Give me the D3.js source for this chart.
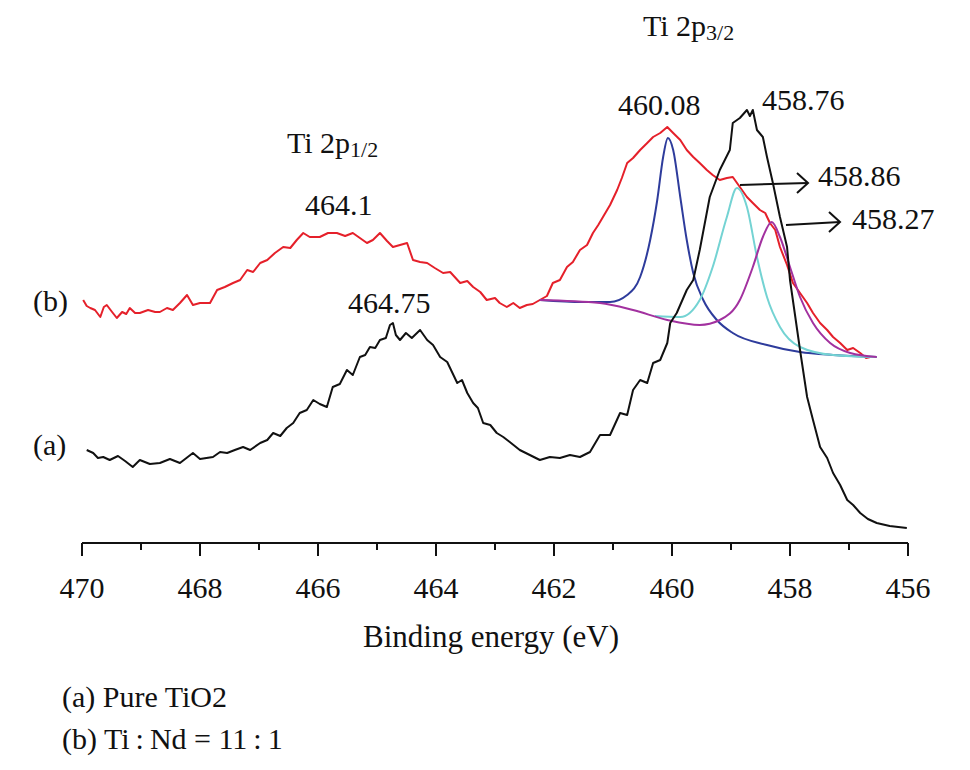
<!DOCTYPE html>
<html>
<head>
<meta charset="utf-8">
<script src="https://cdn.jsdelivr.net/npm/d3@7"></script>
<style>
  body { margin: 0; background: #fff; }
  svg { display: block; }
  text { font-family: "Liberation Serif", "DejaVu Serif", serif; fill: #111; }
</style>
</head>
<body>
<script>
// binding energy (eV), intensity (a.u.)
const pureTiO2 = [
  [469.92,93],[469.81,90],[469.73,85],[469.64,86],[469.53,83],[469.39,87],[469.27,82],[469.14,76],
  [469.02,83],[468.85,79],[468.68,80],[468.51,84],[468.34,80],[468.12,90],[468.00,84],[467.78,86],
  [467.66,91],[467.54,90],[467.41,93],[467.27,96],[467.15,93],[466.98,100],[466.86,103],[466.76,110],
  [466.64,107],[466.53,115],[466.42,120],[466.31,130],[466.19,133],[466.08,143],[465.97,139],[465.85,136],
  [465.75,156],[465.63,159],[465.51,173],[465.41,168],[465.29,186],[465.20,188],[465.12,196],[465.03,195],
  [464.95,203],[464.85,205],[464.78,218],[464.73,220],[464.68,208],[464.61,203],[464.51,210],[464.41,205],
  [464.27,213],[464.15,203],[464.05,198],[463.93,186],[463.81,181],[463.64,160],[463.56,163],[463.47,150],
  [463.37,140],[463.29,135],[463.20,120],[463.08,118],[462.97,110],[462.86,106],[462.75,101],[462.58,93],
  [462.41,88],[462.24,83],[462.07,86],[461.90,85],[461.73,88],[461.56,86],[461.39,91],[461.22,108],
  [461.05,108],[460.88,130],[460.76,128],[460.66,153],[460.54,163],[460.42,160],[460.32,180],[460.20,183],
  [460.08,200],[460.03,220],[459.92,230],[459.75,253],[459.64,263],[459.53,293],[459.36,346],[459.19,373],
  [459.02,393],[458.97,420],[458.85,425],[458.73,433],[458.68,427],[458.63,433],[458.56,413],[458.46,406],
  [458.39,386],[458.29,360],[458.17,326],[458.05,296],[458.00,263],[457.83,193],[457.71,146],[457.61,123],
  [457.49,96],[457.37,85],[457.27,70],[457.15,58],[457.03,43],[456.93,38],[456.81,30],[456.68,24],
  [456.53,20],[456.31,17],[456.02,15]
];

const tiNd = [
  [469.98,243],[469.92,237],[469.86,235],[469.78,233],[469.69,226],[469.63,236],[469.58,238],[469.49,231],
  [469.41,225],[469.32,231],[469.25,229],[469.19,235],[469.10,230],[469.02,230],[468.88,233],[468.76,231],
  [468.68,231],[468.56,235],[468.46,233],[468.34,240],[468.22,248],[468.12,238],[468.00,240],[467.83,240],
  [467.71,253],[467.58,256],[467.44,260],[467.32,263],[467.20,273],[467.10,271],[466.98,280],[466.86,283],
  [466.73,290],[466.59,296],[466.47,295],[466.36,303],[466.25,310],[466.14,306],[465.97,306],[465.83,310],
  [465.68,310],[465.54,307],[465.41,310],[465.29,305],[465.17,300],[465.07,303],[464.95,310],[464.83,302],
  [464.73,296],[464.61,298],[464.49,300],[464.39,283],[464.27,281],[464.15,280],[464.02,275],[463.88,270],
  [463.76,271],[463.59,260],[463.47,262],[463.37,256],[463.25,251],[463.14,243],[463.00,245],[462.92,240],
  [462.80,236],[462.69,240],[462.58,235],[462.46,238],[462.36,239],[462.24,243],[462.12,247],[462.02,260],
  [461.90,263],[461.78,276],[461.68,281],[461.56,293],[461.44,298],[461.34,310],[461.25,318],[461.17,326],
  [461.05,338],[460.93,353],[460.85,365],[460.76,380],[460.66,385],[460.54,393],[460.42,400],[460.32,406],
  [460.20,410],[460.08,416],[459.98,410],[459.86,403],[459.75,393],[459.64,386],[459.53,380],[459.41,373],
  [459.31,368],[459.19,363],[459.07,365],[458.97,366],[458.85,356],[458.73,346],[458.63,340],[458.51,333],
  [458.42,330],[458.34,320],[458.25,313],[458.17,296],[458.05,278],[457.95,260],[457.83,250],[457.71,240],
  [457.61,230],[457.49,220],[457.37,213],[457.27,206],[457.15,200],[457.03,193],[456.93,195],[456.81,190],
  [456.71,185],[456.64,186],[456.53,186]
];

// fitted components of (b)
const fitBlue = [
  [462.24,243],[461.51,241],[461.05,241],[460.76,248],[460.54,266],[460.37,303],[460.25,343],[460.15,386],
  [460.07,405],[459.98,393],[459.86,346],[459.75,303],[459.64,270],[459.47,243],[459.24,223],[458.97,210],
  [458.39,198],[457.83,191],[457.27,188],[456.53,186]
];
const fitCyan = [
  [460.29,227],[459.86,226],[459.53,243],[459.31,276],[459.07,326],[458.90,355],[458.73,336],[458.56,286],
  [458.39,246],[458.17,216],[457.83,196],[457.27,188],[456.53,186]
];
const fitMagenta = [
  [462.24,243],[461.22,240],[460.66,233],[460.08,223],[459.53,218],[459.19,223],[458.85,243],[458.63,276],
  [458.46,306],[458.31,321],[458.17,306],[458.00,276],[457.83,246],[457.61,220],[457.32,200],[456.98,190],
  [456.53,186]
];

const majorTicks = [470, 468, 466, 464, 462, 460, 458, 456];
const minorTicks = [469, 467, 465, 463, 461, 459, 457];

const width = 970, height = 770;

const svg = d3.select("body").append("svg")
  .attr("width", width)
  .attr("height", height);

const x = d3.scaleLinear().domain([470, 456]).range([82, 908]);
const y = d3.scaleLinear().domain([0, 450]).range([543, 93]);

// axis
const axisY = 543;
svg.append("line")
  .attr("x1", x(470)).attr("x2", x(456))
  .attr("y1", axisY).attr("y2", axisY)
  .attr("stroke", "#111").attr("stroke-width", 2);

svg.selectAll(".major").data(majorTicks).join("line")
  .attr("class", "major")
  .attr("x1", d => x(d)).attr("x2", d => x(d))
  .attr("y1", axisY).attr("y2", axisY + 13)
  .attr("stroke", "#111").attr("stroke-width", 2);

svg.selectAll(".minor").data(minorTicks).join("line")
  .attr("class", "minor")
  .attr("x1", d => x(d)).attr("x2", d => x(d))
  .attr("y1", axisY).attr("y2", axisY + 7)
  .attr("stroke", "#111").attr("stroke-width", 2);

svg.selectAll(".ticklabel").data(majorTicks).join("text")
  .attr("class", "ticklabel")
  .attr("x", d => x(d)).attr("y", 598)
  .attr("text-anchor", "middle")
  .attr("font-size", 30)
  .text(d => d);

svg.append("text")
  .attr("x", 491).attr("y", 647)
  .attr("text-anchor", "middle")
  .attr("font-size", 31)
  .text("Binding energy (eV)");

// curves
const rough = d3.line().x(d => x(d[0])).y(d => y(d[1]));
const smooth = d3.line().x(d => x(d[0])).y(d => y(d[1])).curve(d3.curveMonotoneX);

svg.append("path").datum(tiNd)
  .attr("d", rough).attr("fill", "none")
  .attr("stroke", "#e5202a").attr("stroke-width", 2).attr("stroke-linejoin", "round");

svg.append("path").datum(fitBlue)
  .attr("d", smooth).attr("fill", "none")
  .attr("stroke", "#2e3c9c").attr("stroke-width", 2);
svg.append("path").datum(fitCyan)
  .attr("d", smooth).attr("fill", "none")
  .attr("stroke", "#74d3d3").attr("stroke-width", 2);
svg.append("path").datum(fitMagenta)
  .attr("d", smooth).attr("fill", "none")
  .attr("stroke", "#a2319f").attr("stroke-width", 2);

svg.append("path").datum(pureTiO2)
  .attr("d", rough).attr("fill", "none")
  .attr("stroke", "#111").attr("stroke-width", 2).attr("stroke-linejoin", "round");

// annotations
function subLabel(tx, ty, main, sub) {
  const t = svg.append("text").attr("x", tx).attr("y", ty).attr("font-size", 30);
  t.append("tspan").text(main);
  t.append("tspan").attr("font-size", 22).attr("dy", 4).text(sub);
}
subLabel(643, 36, "Ti 2p", "3/2");
subLabel(287, 153, "Ti 2p", "1/2");

const peakLabels = [
  { text: "464.1", x: 305, y: 215 },
  { text: "464.75", x: 348, y: 313 },
  { text: "460.08", x: 618, y: 115 },
  { text: "458.76", x: 762, y: 110 },
  { text: "458.86", x: 818, y: 186 },
  { text: "458.27", x: 852, y: 229 },
  { text: "(b)", x: 33, y: 311 },
  { text: "(a)", x: 33, y: 455 }
];
svg.selectAll(".peak").data(peakLabels).join("text")
  .attr("class", "peak")
  .attr("x", d => d.x).attr("y", d => d.y)
  .attr("font-size", 30)
  .text(d => d.text);

const arrows = [
  { x1: 740, y1: 185, x2: 808, y2: 183 },
  { x1: 786, y1: 225, x2: 840, y2: 222 }
];
arrows.forEach(a => {
  svg.append("line")
    .attr("x1", a.x1).attr("y1", a.y1).attr("x2", a.x2).attr("y2", a.y2)
    .attr("stroke", "#111").attr("stroke-width", 2);
  svg.append("path")
    .attr("d", `M${a.x2 - 11},${a.y2 - 10}L${a.x2},${a.y2}L${a.x2 - 11},${a.y2 + 10}`)
    .attr("fill", "none").attr("stroke", "#111").attr("stroke-width", 2);
});

// legend
const legendLines = ["(a) Pure TiO2", "(b) Ti\u2009:\u2009Nd = 11\u2009:\u20091"];
svg.selectAll(".legend").data(legendLines).join("text")
  .attr("class", "legend")
  .attr("x", 62).attr("y", (d, i) => 707 + i * 42)
  .attr("font-size", 30)
  .text(d => d);
</script>
</body>
</html>
